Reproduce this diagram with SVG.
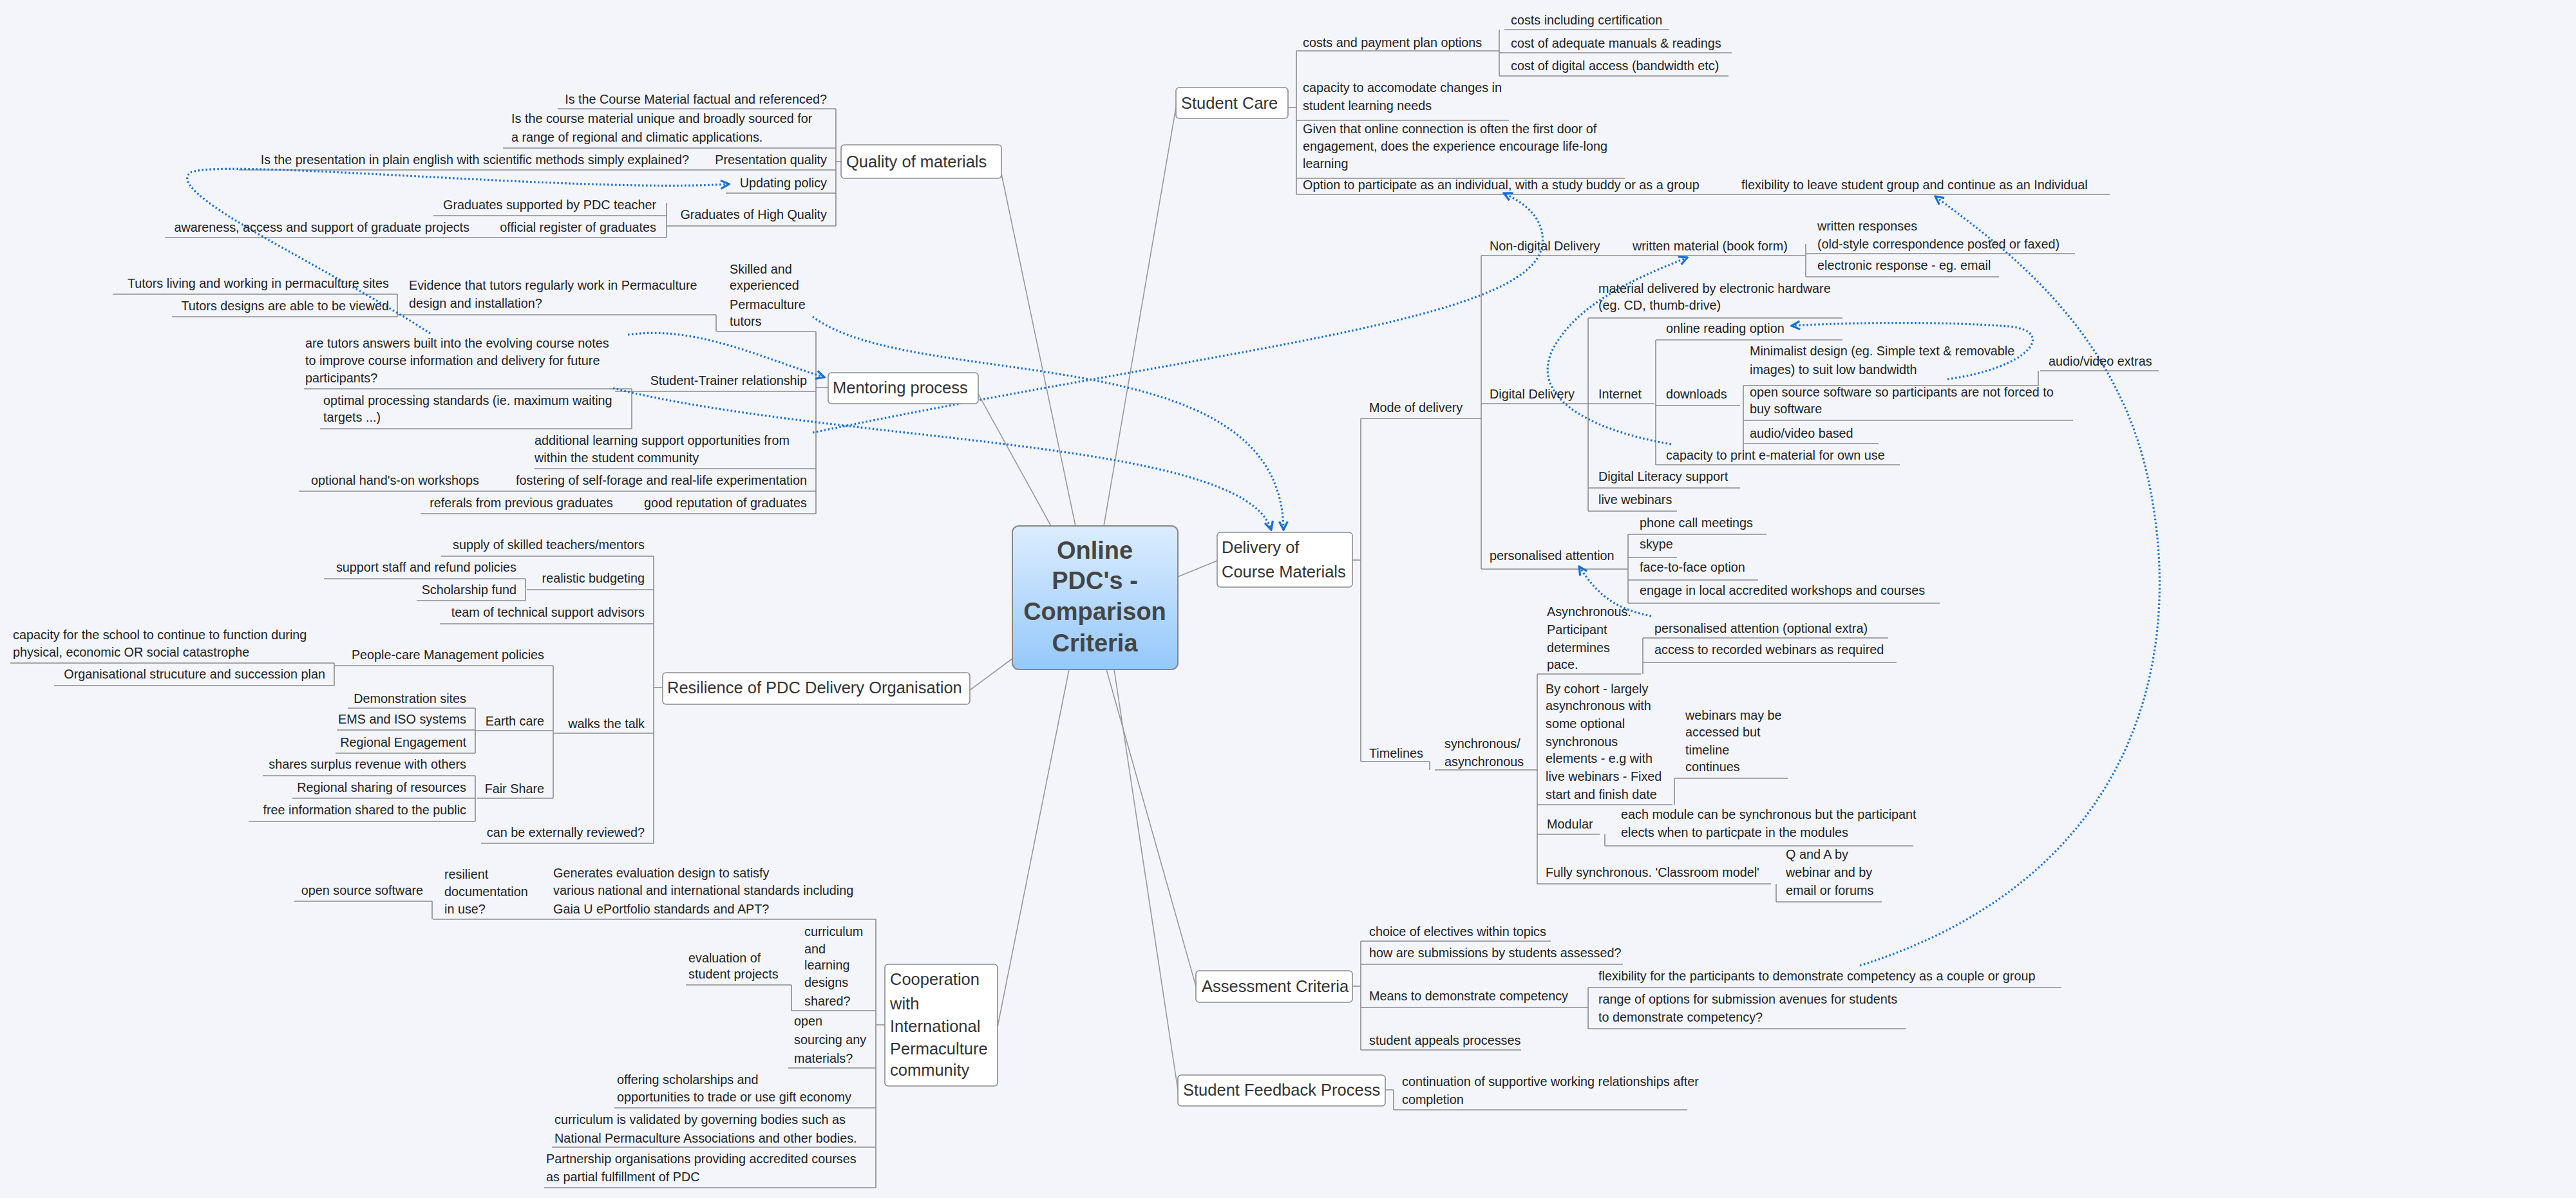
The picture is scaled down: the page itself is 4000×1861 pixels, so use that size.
<svg xmlns="http://www.w3.org/2000/svg" width="4000" height="1861" viewBox="0 0 4000 1861">
<style>
.t{font-family:"Liberation Sans",Arial,sans-serif;font-size:19.8px;fill:#222}
.e{text-anchor:end}
.b{font-family:"Liberation Sans",Arial,sans-serif;font-size:25.5px;fill:#333}
.u{stroke:#8c8c8c;stroke-width:1.6;fill:none}
.c{stroke:#999;stroke-width:1.6;fill:none}
.box{fill:#fff;stroke:#8c8c8c;stroke-width:1.6}
.rel{stroke:#1670d8;stroke-width:3.2;stroke-dasharray:2.5 3.5;fill:none;marker-end:url(#ar)}
</style>
<defs>
<linearGradient id="cg" x1="0" y1="0" x2="0" y2="1"><stop offset="0" stop-color="#dcedfe"/><stop offset="1" stop-color="#95c8fb"/></linearGradient>
<marker id="ar" viewBox="0 0 10 10" refX="9" refY="5" markerWidth="5" markerHeight="5" orient="auto" markerUnits="strokeWidth"><path d="M1,1 L9,5 L1,9" fill="none" stroke="#1670d8" stroke-width="2"/></marker>
</defs>
<rect width="4000" height="1861" fill="#f3f5fa"/>

<g id="connectors">
<path class="c" d="M1714,817 L1826,167"/>
<path class="c" d="M1670,817 L1555,270"/>
<path class="c" d="M1632,817 L1519,612"/>
<path class="c" d="M1829,896 L1890,871"/>
<path class="c" d="M1572,1023 L1506,1072"/>
<path class="c" d="M1660,1040 L1549,1595"/>
<path class="c" d="M1718,1040 L1857,1532"/>
<path class="c" d="M1730,1040 L1829,1693"/>
<path class="u" d="M2000,167 L2013,167 M2013,79 V302 M2013,79 H2328 M2328,79 V46 M2328,118 V46 M2336,46 H2592 M2328,82 H2689 M2328,118 H2684 M2013,187 H2343 M2013,277 H2523 M2013,302 H3276"/>
<path class="u" d="M2100,870 H2113 M2113,650 V1183 M2113,650 H2295 M2300,397 V884 M2295,650 H2300 M2300,397 H2510 M2510,397 H2804 M2804,379 V430 M2804,394 H3222 M2804,430 H3104 M2300,627 H2459 M2466,494 V794 M2459,627 H2466 M2466,494 H2861 M2466,627 H2569 M2571,528 V722 M2571,528 H2861 M2571,630 H2702 M2707,599 V704 M2707,599 H3165 M3165,599 V576 M3168,576 H3352 M2707,653 H3219 M2707,689 H2917 M2571,722 H2950 M2466,758 H2702 M2466,794 H2604 M2300,884 H2523 M2528,830 V937 M2523,884 H2528 M2528,830 H2743 M2528,866 H2604 M2528,901 H2730 M2528,937 H3012 M2113,1183 H2220 M2220,1183 V1196 M2228,1196 H2377 M2387,1047 V1373 M2377,1196 H2387 M2387,1047 H2548 M2551,991 V1047 M2551,991 H2932 M2551,1029 H2945 M2387,1250 H2597 M2600,1209 V1250 M2600,1209 H2776 M2387,1296 H2484 M2492,1296 V1314 M2492,1314 H2971 M2387,1373 H2750 M2758,1373 V1401 M2758,1401 H2922"/>
<path class="u" d="M2100,1532 H2113 M2113,1462 V1631 M2113,1462 H2408 M2113,1498 H2520 M2113,1565 H2456 M2466,1534 V1598 M2456,1565 H2466 M2466,1534 H3201 M2466,1598 H2960 M2113,1631 H2362"/>
<path class="u" d="M2151,1693 H2164 M2164,1693 V1724 M2164,1724 H2620"/>
<path class="u" d="M1306,251 H1298 M1298,169 V351 M866,169 H1298 M781,230 H1298 M1088,264 H1298 M371,264 H1088 M1127,300 H1298 M1035,351 H1298 M1035,315 V369 M673,335 H1035 M742,369 H1035 M256,369 H742"/>
<path class="u" d="M1286,602 H1267 M1267,515 V798 M1113,515 H1267 M1112,489 V515 M617,489 H1112 M617,457 V492 M175,457 H617 M267,492 H617 M955,608 H1267 M981,604 V666 M472,604 H981 M497,666 H981 M830,728 H1267 M775,763 H1267 M464,763 H775 M975,798 H1267 M653,798 H975"/>
<path class="u" d="M1029,1068 H1015 M1015,864 V1310 M685,864 H1015 M818,916 H1015 M816,899 V933 M503,899 H816 M647,933 H816 M683,969 H1015 M860,1139 H1015 M859,1034 V1240 M520,1034 H859 M519,1030 V1065 M16,1030 H519 M84,1065 H519 M737,1135 H859 M738,1100 V1170 M540,1100 H738 M523,1134 H738 M521,1170 H738 M740,1240 H859 M738,1205 V1276 M408,1205 H738 M454,1240 H738 M386,1276 H738 M747,1310 H1015"/>
<path class="u" d="M1374,1592 H1360 M1360,1428 V1845 M672,1428 H1360 M671,1400 V1428 M457,1400 H671 M1229,1570 H1360 M1229,1530 V1570 M1065,1530 H1229 M1224,1659 H1360 M954,1721 H1360 M857,1782 H1360 M845,1845 H1360"/>
</g>

<g id="relationships">
<path class="rel" d="M668,518 C520,420 250,300 296,268 C340,245 900,300 1132,286"/>
<path class="rel" d="M975,520 C1080,505 1180,555 1280,586"/>
<path class="rel" d="M952,603 C1300,690 1930,680 1974,823"/>
<path class="rel" d="M1262,492 C1420,610 1990,520 1993,823"/>
<path class="rel" d="M1262,672 C1900,540 2380,500 2395,380 C2400,335 2360,312 2335,300"/>
<path class="rel" d="M2595,690 C2450,665 2380,610 2410,545 C2450,465 2560,425 2620,400"/>
<path class="rel" d="M3024,589 C3150,572 3195,515 3120,507 C3000,498 2850,502 2782,506"/>
<path class="rel" d="M2564,957 C2500,945 2475,915 2452,880"/>
<path class="rel" d="M2888,1500 C3330,1360 3400,1000 3330,720 C3270,490 3090,370 3005,305"/>
</g>

<g id="central">
<rect x="1572" y="817" width="257" height="223" rx="10" fill="url(#cg)" stroke="#888" stroke-width="2"/>
<text font-family="Liberation Sans,Arial,sans-serif" font-size="38" font-weight="bold" fill="#454545" text-anchor="middle"><tspan x="1700" y="868">Online</tspan><tspan x="1700" y="915">PDC's -</tspan><tspan x="1700" y="963">Comparison</tspan><tspan x="1700" y="1012">Criteria</tspan></text>
</g>

<g id="student-care">
<rect class="box" x="1826" y="136" width="174" height="48" rx="5"/>
<text class="b" x="1834" y="169">Student Care</text>
<text class="t" x="2023" y="73">costs and payment plan options</text>
<text class="t" x="2346" y="38">costs including certification</text>
<text class="t" x="2346" y="74">cost of adequate manuals &amp; readings</text>
<text class="t" x="2346" y="109">cost of digital access (bandwidth etc)</text>
<text class="t"><tspan x="2023" y="143">capacity to accomodate changes in</tspan><tspan x="2023" y="171">student learning needs</tspan></text>
<text class="t"><tspan x="2023" y="207">Given that online connection is often the first door of</tspan><tspan x="2023" y="234">engagement, does the experience encourage life-long</tspan><tspan x="2023" y="261">learning</tspan></text>
<text class="t" x="2023" y="294">Option to participate as an individual, with a study buddy or as a group</text>
<text class="t" x="2704" y="294">flexibility to leave student group and continue as an Individual</text>
</g>

<g id="delivery">
<rect class="box" x="1890" y="827" width="210" height="85" rx="5"/>
<text class="b"><tspan x="1897" y="859">Delivery of</tspan><tspan x="1897" y="897">Course Materials</tspan></text>
<text class="t" x="2126" y="640">Mode of delivery</text>
<text class="t" x="2313" y="389">Non-digital Delivery</text>
<text class="t" x="2535" y="389">written material (book form)</text>
<text class="t"><tspan x="2822" y="358">written responses</tspan><tspan x="2822" y="386">(old-style correspondence posted or faxed)</tspan></text>
<text class="t" x="2822" y="419">electronic response - eg. email</text>
<text class="t" x="2313" y="619">Digital Delivery</text>
<text class="t"><tspan x="2482" y="455">material delivered by electronic hardware</tspan><tspan x="2482" y="481">(eg. CD, thumb-drive)</tspan></text>
<text class="t" x="2482" y="619">Internet</text>
<text class="t" x="2587" y="517">online reading option</text>
<text class="t" x="2587" y="619">downloads</text>
<text class="t"><tspan x="2717" y="552">Minimalist design (eg. Simple text &amp; removable</tspan><tspan x="2717" y="581">images) to suit low bandwidth</tspan></text>
<text class="t" x="3181" y="568">audio/video extras</text>
<text class="t"><tspan x="2717" y="616">open source software so participants are not forced to</tspan><tspan x="2717" y="642">buy software</tspan></text>
<text class="t" x="2717" y="680">audio/video based</text>
<text class="t" x="2587" y="714">capacity to print e-material for own use</text>
<text class="t" x="2482" y="747">Digital Literacy support</text>
<text class="t" x="2482" y="783">live webinars</text>
<text class="t" x="2313" y="870">personalised attention</text>
<text class="t" x="2546" y="819">phone call meetings</text>
<text class="t" x="2546" y="852">skype</text>
<text class="t" x="2546" y="888">face-to-face option</text>
<text class="t" x="2546" y="924">engage in local accredited workshops and courses</text>
<text class="t" x="2126" y="1177">Timelines</text>
<text class="t"><tspan x="2243" y="1162">synchronous/</tspan><tspan x="2243" y="1190">asynchronous</tspan></text>
<text class="t"><tspan x="2402" y="957">Asynchronous.</tspan><tspan x="2402" y="985">Participant</tspan><tspan x="2402" y="1013">determines</tspan><tspan x="2402" y="1039">pace.</tspan></text>
<text class="t" x="2569" y="983">personalised attention (optional extra)</text>
<text class="t" x="2569" y="1016">access to recorded webinars as required</text>
<text class="t"><tspan x="2400" y="1077">By cohort - largely</tspan><tspan x="2400" y="1103">asynchronous with</tspan><tspan x="2400" y="1131">some optional</tspan><tspan x="2400" y="1159">synchronous</tspan><tspan x="2400" y="1185">elements - e.g with</tspan><tspan x="2400" y="1213">live webinars - Fixed</tspan><tspan x="2400" y="1241">start and finish date</tspan></text>
<text class="t"><tspan x="2617" y="1118">webinars may be</tspan><tspan x="2617" y="1144">accessed but</tspan><tspan x="2617" y="1172">timeline</tspan><tspan x="2617" y="1198">continues</tspan></text>
<text class="t" x="2402" y="1287">Modular</text>
<text class="t"><tspan x="2517" y="1272">each module can be synchronous but the participant</tspan><tspan x="2517" y="1300">elects when to particpate in the modules</tspan></text>
<text class="t" x="2400" y="1362">Fully synchronous. 'Classroom model'</text>
<text class="t"><tspan x="2773" y="1334">Q and A by</tspan><tspan x="2773" y="1362">webinar and by</tspan><tspan x="2773" y="1390">email or forums</tspan></text>
</g>

<g id="assessment">
<rect class="box" x="1857" y="1508" width="243" height="49" rx="5"/>
<text class="b" x="1866" y="1541">Assessment Criteria</text>
<text class="t" x="2126" y="1454">choice of electives within topics</text>
<text class="t" x="2126" y="1487">how are submissions by students assessed?</text>
<text class="t" x="2126" y="1554">Means to demonstrate competency</text>
<text class="t" x="2482" y="1523">flexibility for the participants to demonstrate competency as a couple or group</text>
<text class="t"><tspan x="2482" y="1559">range of options for submission avenues for students</tspan><tspan x="2482" y="1587">to demonstrate competency?</tspan></text>
<text class="t" x="2126" y="1623">student appeals processes</text>
</g>

<g id="feedback">
<rect class="box" x="1829" y="1670" width="322" height="48" rx="5"/>
<text class="b" x="1837" y="1702">Student Feedback Process</text>
<text class="t"><tspan x="2177" y="1687">continuation of supportive working relationships after</tspan><tspan x="2177" y="1715">completion</tspan></text>
</g>

<g id="quality">
<rect class="box" x="1306" y="225" width="249" height="52" rx="5"/>
<text class="b" x="1314" y="260">Quality of materials</text>
<text class="t e" x="1284" y="161">Is the Course Material factual and referenced?</text>
<text class="t"><tspan x="794" y="191">Is the course material unique and broadly sourced for</tspan><tspan x="794" y="220">a range of regional and climatic applications.</tspan></text>
<text class="t e" x="1284" y="255">Presentation quality</text>
<text class="t e" x="1070" y="255">Is the presentation in plain english with scientific methods simply explained?</text>
<text class="t e" x="1284" y="291">Updating policy</text>
<text class="t e" x="1284" y="340">Graduates of High Quality</text>
<text class="t e" x="1019" y="325">Graduates supported by PDC teacher</text>
<text class="t e" x="1019" y="360">official register of graduates</text>
<text class="t e" x="729" y="360">awareness, access and support of graduate projects</text>
</g>

<g id="mentoring">
<rect class="box" x="1286" y="579" width="233" height="48" rx="5"/>
<text class="b" x="1293" y="611">Mentoring process</text>
<text class="t"><tspan x="1133" y="425">Skilled and</tspan><tspan x="1133" y="450">experienced</tspan><tspan x="1133" y="480">Permaculture</tspan><tspan x="1133" y="506">tutors</tspan></text>
<text class="t"><tspan x="635" y="450">Evidence that tutors regularly work in Permaculture</tspan><tspan x="635" y="478">design and installation?</tspan></text>
<text class="t e" x="604" y="447">Tutors living and working in permaculture sites</text>
<text class="t e" x="604" y="482">Tutors designs are able to be viewed</text>
<text class="t e" x="1253" y="598">Student-Trainer relationship</text>
<text class="t"><tspan x="474" y="540">are tutors answers built into the evolving course notes</tspan><tspan x="474" y="567">to improve course information and delivery for future</tspan><tspan x="474" y="594">participants?</tspan></text>
<text class="t"><tspan x="502" y="629">optimal processing standards (ie. maximum waiting</tspan><tspan x="502" y="655">targets ...)</tspan></text>
<text class="t"><tspan x="830" y="691">additional learning support opportunities from</tspan><tspan x="830" y="718">within the student community</tspan></text>
<text class="t e" x="1253" y="753">fostering of self-forage and real-life experimentation</text>
<text class="t e" x="744" y="753">optional hand's-on workshops</text>
<text class="t e" x="1253" y="788">good reputation of graduates</text>
<text class="t e" x="952" y="788">referals from previous graduates</text>
</g>

<g id="resilience">
<rect class="box" x="1029" y="1045" width="477" height="49" rx="5"/>
<text class="b" x="1036" y="1077">Resilience of PDC Delivery Organisation</text>
<text class="t e" x="1001" y="853">supply of skilled teachers/mentors</text>
<text class="t e" x="1001" y="905">realistic budgeting</text>
<text class="t e" x="802" y="888">support staff and refund policies</text>
<text class="t e" x="802" y="923">Scholarship fund</text>
<text class="t e" x="1001" y="958">team of technical support advisors</text>
<text class="t e" x="1001" y="1131">walks the talk</text>
<text class="t e" x="845" y="1024">People-care Management policies</text>
<text class="t"><tspan x="20" y="993">capacity for the school to continue to function during</tspan><tspan x="20" y="1020">physical, economic OR social catastrophe</tspan></text>
<text class="t e" x="505" y="1054">Organisational strucuture and succession plan</text>
<text class="t e" x="845" y="1127">Earth care</text>
<text class="t e" x="724" y="1092">Demonstration sites</text>
<text class="t e" x="724" y="1124">EMS and ISO systems</text>
<text class="t e" x="724" y="1160">Regional Engagement</text>
<text class="t e" x="845" y="1232">Fair Share</text>
<text class="t e" x="724" y="1194">shares surplus revenue with others</text>
<text class="t e" x="724" y="1230">Regional sharing of resources</text>
<text class="t e" x="724" y="1265">free information shared to the public</text>
<text class="t e" x="1001" y="1300">can be externally reviewed?</text>
</g>

<g id="cooperation">
<rect class="box" x="1374" y="1498" width="175" height="189" rx="5"/>
<text class="b"><tspan x="1382" y="1530">Cooperation</tspan><tspan x="1382" y="1568">with</tspan><tspan x="1382" y="1603">International</tspan><tspan x="1382" y="1638">Permaculture</tspan><tspan x="1382" y="1671">community</tspan></text>
<text class="t"><tspan x="859" y="1363">Generates evaluation design to satisfy</tspan><tspan x="859" y="1390">various national and international standards including</tspan><tspan x="859" y="1419">Gaia U ePortfolio standards and APT?</tspan></text>
<text class="t"><tspan x="690" y="1365">resilient</tspan><tspan x="690" y="1392">documentation</tspan><tspan x="690" y="1419">in use?</tspan></text>
<text class="t e" x="657" y="1390">open source software</text>
<text class="t"><tspan x="1249" y="1454">curriculum</tspan><tspan x="1249" y="1481">and</tspan><tspan x="1249" y="1506">learning</tspan><tspan x="1249" y="1533">designs</tspan><tspan x="1249" y="1562">shared?</tspan></text>
<text class="t"><tspan x="1069" y="1495">evaluation of</tspan><tspan x="1069" y="1520">student projects</tspan></text>
<text class="t"><tspan x="1233" y="1593">open</tspan><tspan x="1233" y="1622">sourcing any</tspan><tspan x="1233" y="1651">materials?</tspan></text>
<text class="t"><tspan x="958" y="1684">offering scholarships and</tspan><tspan x="958" y="1711">opportunities to trade or use gift economy</tspan></text>
<text class="t"><tspan x="861" y="1746">curriculum is validated by governing bodies such as</tspan><tspan x="861" y="1775">National Permaculture Associations and other bodies.</tspan></text>
<text class="t"><tspan x="848" y="1807">Partnership organisations providing accredited courses</tspan><tspan x="848" y="1835">as partial fulfillment of PDC</tspan></text>
</g>
</svg>
